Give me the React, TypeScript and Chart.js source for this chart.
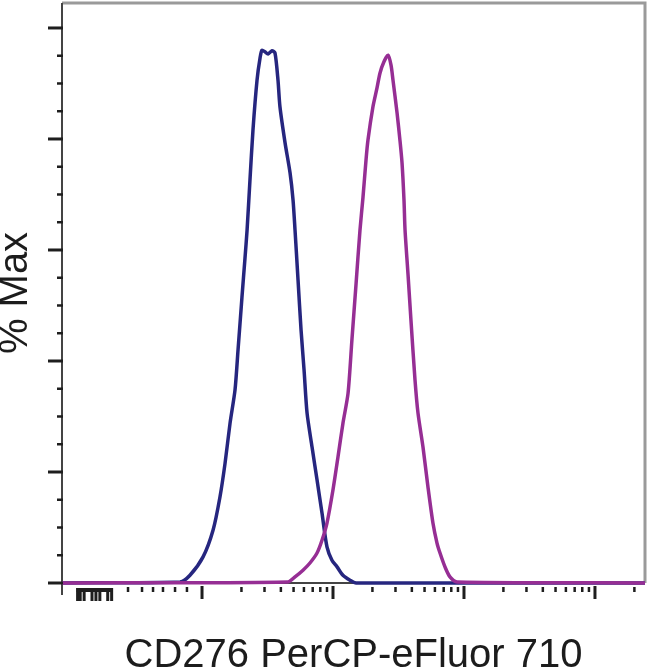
import React, { useEffect, useRef } from "react";
import { Chart, registerables } from "chart.js";

Chart.register(...registerables);

// x values are in log10 display units (decades), y values are % Max
const blueLog = [
  0.931, 1.832, 1.908, 2.008, 2.084, 2.137, 2.176, 2.214, 2.252, 2.275, 2.305, 2.328, 2.344, 2.366, 2.389,
  2.42, 2.443, 2.458, 2.481, 2.504, 2.534, 2.557, 2.58, 2.595, 2.634, 2.672, 2.695, 2.71, 2.733, 2.756,
  2.779, 2.802, 2.84, 2.878, 2.916, 2.954, 2.992, 3.031, 3.076, 3.13, 3.176, 5.382,
];
const blueMax = [
  0, 0.2, 1.4, 4.7, 9.5, 15.5, 21.6, 28.8, 34.8, 42.0, 51.5, 58.5, 63.6, 72.6, 81.6,
  90.6, 94.6, 96.0, 95.7, 95.3, 95.9, 95.5, 90.6, 85.8, 79.3, 73.9, 69.0, 63.6, 54.6, 45.6,
  38.4, 30.6, 24.5, 18.6, 12.6, 6.5, 4.1, 2.9, 1.4, 0.5, 0, 0,
];

const magentaLog = [
  0.931, 2.656, 2.71, 2.771, 2.824, 2.878, 2.916, 2.954, 3.0, 3.038, 3.076, 3.115, 3.145, 3.176, 3.206,
  3.229, 3.252, 3.267, 3.305, 3.336, 3.359, 3.389, 3.42, 3.443, 3.458, 3.489, 3.511, 3.527, 3.542, 3.55,
  3.573, 3.595, 3.626, 3.649, 3.687, 3.725, 3.763, 3.794, 3.817, 3.855, 3.893, 3.947, 5.382,
];
const magentaMax = [
  0, 0.2, 1.1, 2.3, 3.6, 5.4, 7.7, 10.8, 16.8, 22.7, 28.8, 34.2, 44.0, 53.9, 63.6,
  69.5, 76.2, 79.8, 85.8, 89.2, 91.9, 93.9, 95.1, 93.3, 90.6, 84.7, 79.8, 75.7, 69.0, 63.6,
  55.5, 47.4, 36.6, 30.6, 24.5, 17.3, 10.8, 7.2, 5.4, 2.9, 1.1, 0.2, 0,
];

const yMajorTicks = [0, 20, 40, 60, 80, 100];
const yMinorTicks = [5, 10, 15, 25, 30, 35, 45, 50, 55, 65, 70, 75, 85, 90, 95];

const xMajorTicks = [2, 3, 4, 5];
const xClusterTicks = [1.05, 1.07, 1.1, 1.16, 1.19, 1.22, 1.28, 1.31];
const xMinorTicks = [
  1.435, 1.542, 1.626, 1.702, 1.794, 1.885,
  2.301, 2.477, 2.602, 2.699, 2.778, 2.845, 2.903, 2.954,
  3.301, 3.477, 3.602, 3.699, 3.778, 3.845, 3.903, 3.954,
  4.301, 4.477, 4.602, 4.699, 4.778, 4.845, 4.903, 4.954,
  5.301,
];

const xTitle = "CD276 PerCP-eFluor 710";
const yTitle = "% Max";

const FONT = "'Liberation Sans', Arial, Helvetica, sans-serif";

const framePlugin = {
  id: "frame",
  beforeDatasetsDraw(chart: any) {
    const { ctx, chartArea } = chart;
    const { left, right, top, bottom } = chartArea;
    ctx.save();
    // top and right border, grey
    ctx.strokeStyle = "#9a9a9a";
    ctx.lineWidth = 3;
    ctx.beginPath();
    ctx.moveTo(left, top);
    ctx.lineTo(right, top);
    ctx.lineTo(right, bottom);
    ctx.stroke();
    // left and bottom axis
    ctx.strokeStyle = "#444";
    ctx.lineWidth = 2;
    ctx.beginPath();
    ctx.moveTo(left, top);
    ctx.lineTo(left, bottom + 12);
    ctx.moveTo(left, bottom);
    ctx.lineTo(right, bottom);
    ctx.stroke();
    ctx.restore();
  },
  afterDraw(chart: any) {
    const { ctx, chartArea, scales } = chart;
    const { left, bottom } = chartArea;
    ctx.save();
    ctx.strokeStyle = "#1e1e1e";
    ctx.lineCap = "butt";

    const yTick = (v: number, len: number, w: number) => {
      const py = scales.y.getPixelForValue(v);
      ctx.lineWidth = w;
      ctx.beginPath();
      ctx.moveTo(left - len, py);
      ctx.lineTo(left + 1, py);
      ctx.stroke();
    };
    const xTick = (v: number, from: number, to: number, w: number) => {
      const px = scales.x.getPixelForValue(v);
      ctx.lineWidth = w;
      ctx.beginPath();
      ctx.moveTo(px, bottom + from);
      ctx.lineTo(px, bottom + to);
      ctx.stroke();
    };

    yMajorTicks.forEach((v) => yTick(v, 14, 3));
    yMinorTicks.forEach((v) => yTick(v, 5, 2.5));
    xMajorTicks.forEach((v) => xTick(v, 3, 16, 3));
    xMinorTicks.forEach((v) => xTick(v, 4, 9, 2.5));
    xClusterTicks.forEach((v) => xTick(v, 5, 18, 3));
    // heavy bar joining the cluster ticks
    const c0 = scales.x.getPixelForValue(xClusterTicks[0]);
    const c1 = scales.x.getPixelForValue(xClusterTicks[xClusterTicks.length - 1]);
    ctx.lineWidth = 4;
    ctx.beginPath();
    ctx.moveTo(c0 - 1, bottom + 7);
    ctx.lineTo(c1 + 1, bottom + 7);
    ctx.stroke();
    ctx.restore();
  },
};

const App: React.FC = () => {
  const chartRef = useRef<HTMLCanvasElement>(null);

  useEffect(() => {
    document.body.style.margin = "0";
    let chartInstance: Chart | null = null;
    if (chartRef.current) {
      chartInstance = new Chart(chartRef.current, {
        type: "line",
        data: {
          datasets: [
            {
              label: "CD276",
              data: magentaLog.map((x, i) => ({ x, y: magentaMax[i] })),
              borderColor: "#962e94",
              borderWidth: 3.5,
              pointRadius: 0,
              tension: 0.25,
              fill: false,
              clip: false as any,
            },
            {
              label: "Isotype",
              data: blueLog.map((x, i) => ({ x, y: blueMax[i] })),
              borderColor: "#26267f",
              borderWidth: 3.5,
              pointRadius: 0,
              tension: 0.25,
              fill: false,
              clip: false as any,
            },
          ],
        },
        options: {
          animation: false,
          responsive: true,
          maintainAspectRatio: false,
          layout: { padding: { top: 3, right: 5, left: 0, bottom: 0 } },
          plugins: {
            legend: { display: false },
            tooltip: { enabled: false },
          },
          scales: {
            x: {
              type: "linear",
              min: 0.931,
              max: 5.382,
              grid: { display: false },
              border: { display: false },
              ticks: { display: false },
              title: {
                display: true,
                text: xTitle,
                color: "#1c1c1c",
                padding: 0,
                font: { family: FONT, size: 40, lineHeight: 0.8 },
              },
              afterFit: (s: any) => {
                s.height = 89;
              },
            },
            y: {
              min: 0,
              max: 104.5,
              grid: { display: false },
              border: { display: false },
              ticks: { display: false },
              title: {
                display: true,
                text: yTitle,
                color: "#1c1c1c",
                padding: 0,
                font: { family: FONT, size: 40, lineHeight: 0.8 },
              },
              afterFit: (s: any) => {
                s.width = 62;
              },
            },
          },
        },
        plugins: [framePlugin],
      });
    }
    return () => {
      if (chartInstance) {
        chartInstance.destroy();
      }
    };
  }, []);

  return (
    <div style={{ width: 650, height: 672, position: "relative", background: "#fff" }}>
      <canvas ref={chartRef}></canvas>
    </div>
  );
};

export default App;
